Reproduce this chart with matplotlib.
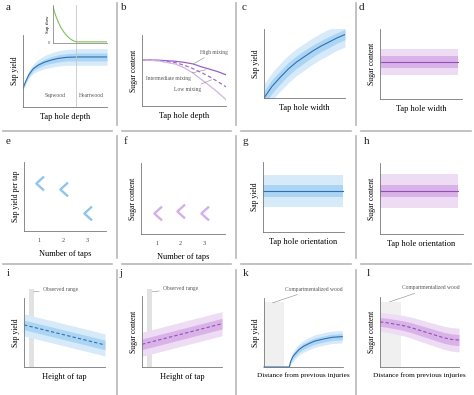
import numpy as np
import matplotlib.pyplot as plt
from matplotlib.lines import Line2D
from matplotlib.path import Path

plt.rcParams['font.family'] = ['Liberation Serif', 'DejaVu Serif']

W, H = 474, 395

BLUE = ('#d6eafa', '#acd5f4', '#2f6fb3')
PURPLE = ('#eedcf5', '#d9b2e8', '#9150b8')
AXIS = '#777777'
SEP = '#b8b8b8'
SHADE = '#e2e2e2'

# a - tap hole depth
depth_x = [0, 0.3, 0.7, 1.2, 1.8, 2.5, 3.3, 4.2, 5.2, 6.5, 8, 10]
depth_yield = [2.6, 3.5, 4.5, 5.3, 5.8, 6.2, 6.5, 6.75, 6.9, 6.95, 6.95, 6.95]
depth_outer = [0.2, 0.35, 0.5, 0.65, 0.8, 0.9, 1.0, 1.05, 1.1, 1.15, 1.15, 1.15]
depth_inner = [0.1, 0.15, 0.25, 0.3, 0.35, 0.4, 0.45, 0.5, 0.5, 0.55, 0.55, 0.55]
sapwood_edge = 6.3
flow_x = [0, 0.5, 1, 1.5, 2, 2.5, 3, 3.5, 4, 4.5, 6, 8, 10]
flow_y = [9.5, 7.2, 5.4, 4.0, 2.9, 2.0, 1.3, 0.8, 0.45, 0.3, 0.3, 0.3, 0.3]

# b - mixing scenarios
mix_x = [0, 2, 4, 5, 6, 7, 8, 9, 10]
mix_high = [6.5, 6.45, 6.3, 6.15, 5.95, 5.55, 5.2, 4.85, 4.4]
mix_mid = [6.5, 6.4, 6.1, 5.75, 5.3, 4.75, 4.15, 3.45, 2.7]
mix_low = [6.5, 6.35, 5.9, 5.4, 4.7, 3.8, 2.9, 1.95, 0.9]

# c / d - tap hole width
width_x = [0, 1, 2, 3, 4, 5, 6, 7, 8, 9, 10]
width_yield = [0, 1.7, 3.0, 4.2, 5.2, 6.0, 6.8, 7.5, 8.1, 8.7, 9.2]
width_outer = [2.0, 2.0, 2.0, 2.0, 1.95, 1.95, 1.9, 1.9, 1.85, 1.8, 1.8]
width_inner = [1.0, 1.0, 0.95, 0.95, 0.9, 0.9, 0.85, 0.8, 0.8, 0.75, 0.75]
width_sugar_x = [0.1, 9.5]
width_sugar = [5.3, 5.3]

# e / f - number of taps
taps = [1, 2, 3]
taps_yield = [7.0, 6.1, 2.6]
taps_sugar = [3.0, 3.2, 3.0]

# g / h - orientation
orient_x = [0, 9.9]
orient_yield = [5.85, 5.85]
orient_sugar_x = [0, 9.4]
orient_sugar = [6.05, 6.05]

# i / j - height of tap
height_x = [0, 10]
height_yield = [6.1, 3.2]
height_sugar = [3.2, 6.1]
observed_i = [0.6, 1.2]
observed_j = [0.6, 1.25]

# k / l - distance from injuries
injury_x = [0, 3.2, 3.4, 3.7, 4.4, 5.0, 5.7, 6.4, 7.5, 8.6, 9.9]
injury_yield = [0, 0, 0.9, 1.6, 2.5, 3.0, 3.4, 3.75, 4.05, 4.3, 4.4]
injury_outer = [0, 0, 0.5, 0.7, 0.8, 0.85, 0.9, 0.9, 0.9, 0.9, 0.9]
injury_sugar_x = [0, 1, 2, 3, 4, 5, 6, 7, 8, 9, 10]
injury_sugar = [6.45, 6.3, 6.1, 5.9, 5.6, 5.25, 4.9, 4.55, 4.2, 3.95, 3.85]
injury_sugar_outer = [1.35, 1.38, 1.42, 1.45, 1.5, 1.55, 1.58, 1.62, 1.65, 1.68, 1.7]
compart_k = [0, 2.5]
compart_l = [0, 2.65]

fig = plt.figure(figsize=(W / 100, H / 100), dpi=100)


def make_axes(x0, y0, x1, y1, xlabel, ylabel, xlim=(0, 10), xsize=6):
    ax = fig.add_axes([x0 / W, 1 - y1 / H, (x1 - x0) / W, (y1 - y0) / H])
    ax.set_xlim(*xlim)
    ax.set_ylim(0, 10)
    for s in ['top', 'right']:
        ax.spines[s].set_visible(False)
    for s in ['left', 'bottom']:
        ax.spines[s].set_color(AXIS)
        ax.spines[s].set_linewidth(0.6)
    ax.set_xticks([])
    ax.set_yticks([])
    ax.patch.set_alpha(0)
    ax.set_xlabel(xlabel, fontsize=xsize, labelpad=4)
    ax.set_ylabel(ylabel, fontsize=5.5, labelpad=3)
    return ax


def band(ax, x, y, outer, inner, pal, ls='-'):
    x = np.asarray(x, float)
    y = np.asarray(y, float)
    outer = np.broadcast_to(outer, y.shape)
    inner = np.broadcast_to(inner, y.shape)
    ax.fill_between(x, y - outer, y + outer, color=pal[0], lw=0)
    ax.fill_between(x, y - inner, y + inner, color=pal[1], lw=0)
    ax.plot(x, y, color=pal[2], lw=0.8, ls=ls, dashes=(3, 2) if ls == '--' else (None, None))


def note(ax, txt, xy, xytext, ha='left'):
    ax.annotate(txt, xy=xy, xytext=xytext, fontsize=4, color='#555555',
                va='center', ha=ha, annotation_clip=False,
                arrowprops=dict(arrowstyle='-', color='#888888', lw=0.4,
                                shrinkA=0.5, shrinkB=0))


# panel a
ax = make_axes(23, 35, 107, 107, 'Tap hole depth', 'Sap yield')
band(ax, depth_x, depth_yield, depth_outer, depth_inner, BLUE)
ax.plot([sapwood_edge, sapwood_edge], [0, 14.2], color='#c8c8c8', lw=0.6, clip_on=False)
ax.text(3.8, 1.4, 'Sapwood', fontsize=4, ha='center', color='#555555')
ax.text(8.1, 1.4, 'Heartwood', fontsize=4, ha='center', color='#555555')
ins = fig.add_axes([53 / W, 1 - 43 / H, 54 / W, 38 / H])
ins.patch.set_alpha(0)
ins.set_xlim(0, 10)
ins.set_ylim(0, 10)
for s in ['top', 'right']:
    ins.spines[s].set_visible(False)
for s in ['left', 'bottom']:
    ins.spines[s].set_color(AXIS)
    ins.spines[s].set_linewidth(0.5)
ins.set_xticks([])
ins.set_yticks([])
ins.plot(flow_x, flow_y, color='#7cc25a', lw=0.8)
ins.set_ylabel('Sap flow', fontsize=3.5, labelpad=2)
ins.text(-0.5, 0, '0', fontsize=3.5, ha='right', va='center', color='#555555')

# panel b
ax = make_axes(142, 35, 226, 106, 'Tap hole depth', 'Sugar content')
ax.plot(mix_x, mix_high, color='#9b5fc4', lw=0.9)
ax.plot(mix_x, mix_mid, color='#a36cc9', lw=0.9, dashes=(3, 2))
ax.plot(mix_x, mix_low, color='#d2b3e3', lw=0.9)
note(ax, 'High mixing', (6.2, 6.0), (8.6, 7.6), ha='center')
note(ax, 'Intermediate mixing', (7.6, 5.1), (3.1, 3.9), ha='center')
note(ax, 'Low mixing', (8.3, 3.7), (5.4, 2.3), ha='center')

# panel c
ax = make_axes(264, 29, 345, 98, 'Tap hole width', 'Sap yield')
band(ax, width_x, width_yield, width_outer, width_inner, BLUE)

# panel d
ax = make_axes(380, 29, 462, 99, 'Tap hole width', 'Sugar content')
band(ax, width_sugar_x, width_sugar, 1.9, 0.8, PURPLE)

# panels e, f - chevrons
chevron = Path([(0.65, 1.0), (-0.45, 0.0), (0.65, -1.0)],
               [Path.MOVETO, Path.LINETO, Path.LINETO])
ax = make_axes(24, 162, 106, 231, 'Number of taps', 'Sap yield per tap', xlim=(0.375, 3.8))
ax.plot(taps, taps_yield, ls='none', marker=chevron, ms=10, mfc='none',
        mec='#8ec5ee', mew=1.7)
ax.set_xticks(taps)
ax.tick_params(length=0, labelsize=4.5, pad=5, labelcolor='#444444')
ax.xaxis.labelpad = 5

ax = make_axes(141, 163, 225, 234, 'Number of taps', 'Sugar content', xlim=(0.32, 3.9))
ax.plot(taps, taps_sugar, ls='none', marker=chevron, ms=10, mfc='none',
        mec='#d6aee8', mew=1.7)
ax.set_xticks(taps)
ax.tick_params(length=0, labelsize=4.5, pad=5, labelcolor='#444444')
ax.xaxis.labelpad = 5

# panels g, h
ax = make_axes(263, 162, 344, 232, 'Tap hole orientation', 'Sap yield')
band(ax, orient_x, orient_yield, 2.25, 0.9, BLUE)
ax = make_axes(380, 163, 463, 234, 'Tap hole orientation', 'Sugar content')
band(ax, orient_sugar_x, orient_sugar, 2.4, 0.9, PURPLE)

# panel i
ax = make_axes(24, 298, 105, 367, 'Height of tap', 'Sap yield')
ax.fill_between(observed_i, 0, 11.3, color=SHADE, lw=0, clip_on=False)
band(ax, height_x, height_yield, 1.6, 0.7, BLUE, ls='--')
note(ax, 'Observed range', (1.2, 10.9), (2.3, 11.3))

# panel j
ax = make_axes(142, 296, 222, 367, 'Height of tap', 'Sugar content')
ax.fill_between(observed_j, 0, 11.0, color=SHADE, lw=0, clip_on=False)
band(ax, height_x, height_sugar, 1.7, 0.75, PURPLE, ls='--')
note(ax, 'Observed range', (1.25, 10.6), (2.6, 11.0))

# panel k
ax = make_axes(264, 298, 343, 367, 'Distance from previous injuries', 'Sap yield', xsize=5.2)
ax.fill_between(compart_k, 0, 9.4, color='#f0f0f0', lw=0)
iy = np.asarray(injury_yield)
io = np.asarray(injury_outer)
ax.fill_between(injury_x, iy - io, iy + io, color=BLUE[0], lw=0)
ax.fill_between(injury_x, iy - io / 2, iy + io / 2, color=BLUE[1], lw=0)
ax.plot(injury_x, injury_yield, color=BLUE[2], lw=0.8, clip_on=False)
note(ax, 'Compartmentalized wood', (1.1, 9.3), (2.65, 11.3))

# panel l
ax = make_axes(380, 297, 459, 367, 'Distance from previous injuries', 'Sugar content', xsize=5.2)
ax.fill_between(compart_l, 0, 9.3, color='#f0f0f0', lw=0)
so = np.asarray(injury_sugar_outer)
band(ax, injury_sugar_x, injury_sugar, so, so * 0.47, PURPLE, ls='--')
note(ax, 'Compartmentalized wood', (1.2, 9.3), (2.8, 11.3))

# panel letters
letters = ['a', 'b', 'c', 'd', 'e', 'f', 'g', 'h', 'i', 'j', 'k', 'l']
letter_pos = [(8, 8), (124, 8), (244, 8), (361, 8), (8, 141), (125, 141),
              (245, 142), (367, 142), (8, 273), (121, 273), (246, 273), (368, 273)]
for t, (lx, ly) in zip(letters, letter_pos):
    fig.text(lx / W, 1 - ly / H, t, fontsize=8, ha='center', va='center', color='#222222')

# separators between panels
for x in [117, 236, 356]:
    for y0, y1 in [(3, 125), (136, 258), (270, 395)]:
        fig.add_artist(Line2D([x / W, x / W], [1 - y0 / H, 1 - y1 / H], color=SEP, lw=1.2))
for y in [130.7, 264.3]:
    for x0, x1 in [(3, 112), (122, 231), (241, 351), (361, 471)]:
        fig.add_artist(Line2D([x0 / W, x1 / W], [1 - y / H, 1 - y / H], color=SEP, lw=1.2))

fig.savefig('out.png', dpi=100)
